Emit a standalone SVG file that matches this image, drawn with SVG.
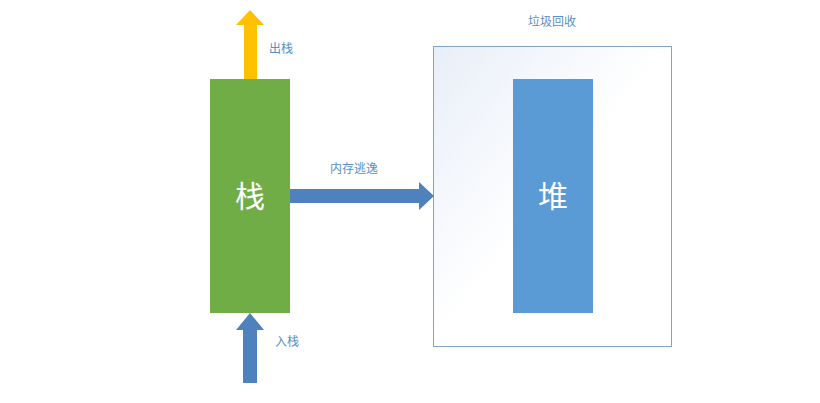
<svg xmlns="http://www.w3.org/2000/svg" width="820" height="403" viewBox="0 0 820 403">
<style>
.lbl{font-family:"Noto Sans CJK SC",sans-serif;font-size:12px;fill:#5b8fc0}
.big{font-family:"Noto Sans CJK SC",sans-serif;font-size:30px;fill:#fff;text-anchor:middle}
.arr{fill:#4f81bd}
</style>
<defs>
<linearGradient id="g" x1="0" y1="0" x2="1" y2="1"><stop offset="0" stop-color="#e8eef8"/><stop offset="0.5" stop-color="#ffffff"/></linearGradient>
</defs>
<rect width="820" height="403" fill="#fff"/>
<g id="gc"><rect x="433.5" y="46.5" width="238" height="300" fill="url(#g)" stroke="#7fa6c9"/><text class="lbl" x="552" y="26" text-anchor="middle">垃圾回收</text></g>
<g id="heap"><rect x="513" y="79" width="80" height="234" fill="#5b9bd5"/><text class="big" x="553" y="207">堆</text></g>
<g id="stack"><rect x="210" y="79" width="80" height="234" fill="#70ad47"/><text class="big" x="250" y="207">栈</text></g>
<g id="connectors">
<polygon points="244,79 244,25 236,25 250,10 264,25 257,25 257,79" fill="#ffc000"/>
<polygon class="arr" points="243,383 243,330 236,330 250,313 264,330 257,330 257,383"/>
<polygon class="arr" points="290,189 419,189 419,182 434,196 419,210 419,203 290,203"/>
<text class="lbl" x="269" y="53">出栈</text>
<text class="lbl" x="275" y="346">入栈</text>
<text class="lbl" x="330" y="173">内存逃逸</text>
</g>
</svg>
